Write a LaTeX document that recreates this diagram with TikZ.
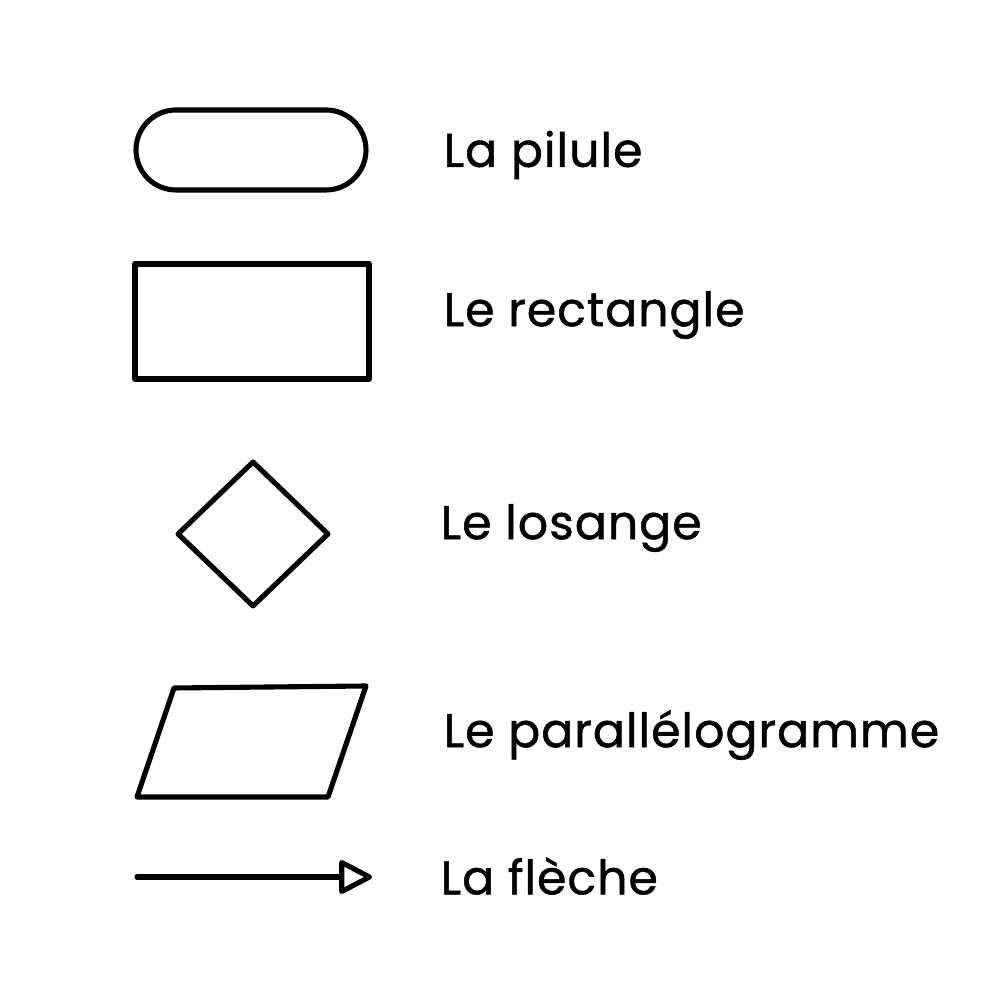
\documentclass[tikz,border=0pt]{standalone}
\usepackage{fontspec}
\setmainfont[LetterSpace=2,FakeBold=1]{Poppins}
\usetikzlibrary{shapes.misc,shapes.geometric,arrows.meta}
\tikzset{
  forme/.style={draw,line width=1.45pt,inner sep=0pt},
  trait/.style={line width=1.45pt},
  legende/.style={anchor=west,inner sep=0pt,font=\fontsize{13.5}{16}\selectfont}
}
\begin{document}
\begin{tikzpicture}[line join=round,line cap=round]
  \useasboundingbox (0,0) rectangle (10,10);
  % les formes
  \node[forme,rounded rectangle,minimum width=2.3cm,minimum height=0.8cm] (pilule) at (2.51,8.5) {};
  \node[forme,rectangle,minimum width=2.34cm,minimum height=1.15cm] (rect) at (2.52,6.785) {};
  \node[forme,diamond,minimum width=1.52cm,minimum height=1.46cm] (losange) at (2.53,4.66) {};
  % le parallelogramme
  \draw[trait] (1.74,3.12) -- (3.66,3.14) -- (3.28,2.03) -- (1.37,2.03) -- cycle;
  % la fleche
  \coordinate (debut) at (1.37,1.23);
  \coordinate (fin) at (3.72,1.23);
  \draw[trait,-{Triangle[open,round,length=0.36cm,width=0.36cm]}] (debut) -- (fin);
  % les textes
  \node[legende] (tpilule) at (4.43,8.45) {La pilule};
  \node[legende] (trect) at (4.43,6.85) {Le rectangle};
  \node[legende] (tlosange) at (4.40,4.72) {Le losange};
  \node[legende] (tpara) at (4.43,2.65) {Le parallélogramme};
  \node[legende] (tfleche) at (4.40,1.24) {La flèche};
\end{tikzpicture}
\end{document}
